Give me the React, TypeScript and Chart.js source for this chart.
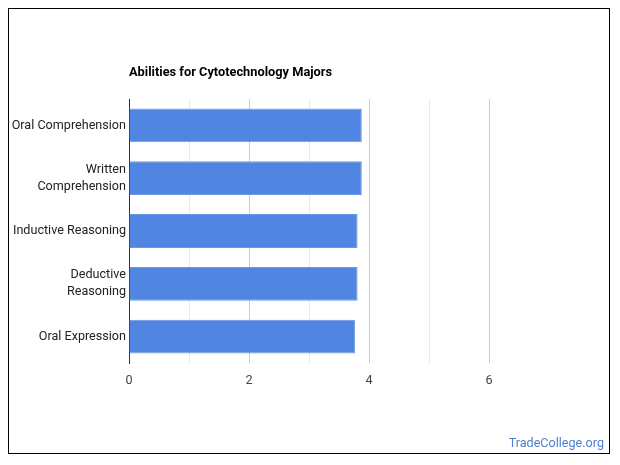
import React, { useEffect, useRef } from "react";
import { Chart, registerables } from "chart.js";

Chart.register(...registerables);

const categories: (string | string[])[] = [
  "Oral Comprehension",
  ["Written", "Comprehension"],
  "Inductive Reasoning",
  ["Deductive", "Reasoning"],
  "Oral Expression",
];
const values = [3.88, 3.88, 3.81, 3.81, 3.77];
const xMin = 0;
const xMax = 6;
const titleText = "Abilities for Cytotechnology Majors";
const watermark = "TradeCollege.org";

const titlePlugin = {
  id: "leftTitle",
  afterDraw(chart: any) {
    const { ctx, chartArea } = chart;
    ctx.save();
    ctx.font = "bold 12.8px Roboto";
    ctx.fillStyle = "#000000";
    ctx.textAlign = "left";
    ctx.textBaseline = "middle";
    ctx.fillText(titleText, chartArea.left, 63.5);
    ctx.restore();
  },
};

export default function App() {
  const ref = useRef<HTMLCanvasElement | null>(null);
  useEffect(() => {
    if (!ref.current) return;
    const chart = new Chart(ref.current, {
      type: "bar",
      data: {
        labels: categories,
        datasets: [
          {
            data: values,
            backgroundColor: "#5085e2",
            borderColor: "#6b98e6",
            borderWidth: 1,
            barPercentage: 0.64,
            categoryPercentage: 1,
          },
        ],
      },
      options: {
        indexAxis: "y",
        animation: false,
        responsive: false,
        maintainAspectRatio: false,
        layout: { padding: { top: 90, right: 120, bottom: 0, left: 0 } },
        plugins: {
          legend: { display: false },
          title: { display: false },
          tooltip: { enabled: false },
        },
        scales: {
          x: {
            min: xMin,
            max: xMax,
            ticks: {
              stepSize: 1,
              color: "#444444",
              font: { family: "Roboto", size: 12.6 },
              padding: 10,
              callback: (v: any) => (Number(v) % 2 === 0 ? String(v) : ""),
            },
            grid: {
              drawTicks: false,
              color: (c: any) =>
                c.tick && c.tick.value % 2 === 0 ? "#cccccc" : "#e8e8e8",
            },
            border: { display: false },
            afterFit: (s: any) => {
              s.height = 90;
            },
          },
          y: {
            ticks: {
              color: "#222222",
              font: { family: "Roboto", size: 12.6, lineHeight: 1.35 },
              padding: 3,
            },
            grid: { display: false, drawTicks: false },
            border: { display: true, color: "#333333", width: 1 },
            afterFit: (s: any) => {
              s.width = 120;
            },
          },
        },
      },
      plugins: [titlePlugin],
    });
    return () => chart.destroy();
  }, []);

  return (
    <div
      style={{
        position: "relative",
        width: 600,
        height: 444,
        border: "1px solid #000",
        background: "#fff",
      }}
    >
      <canvas ref={ref} width={600} height={444} style={{ display: "block" }} />
      <div
        style={{
          position: "absolute",
          right: 5,
          bottom: 3,
          fontFamily: "Roboto",
          fontSize: 12.6,
          color: "#4d7fd1",
        }}
      >
        {watermark}
      </div>
    </div>
  );
}
